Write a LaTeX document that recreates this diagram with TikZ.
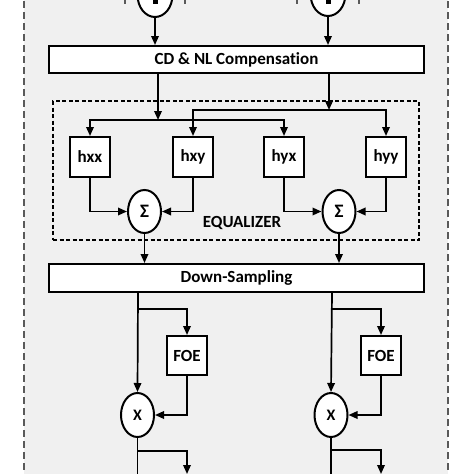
\documentclass[tikz,border=0pt]{standalone}
\usepackage{fontspec}
\setmainfont{Carlito}[Ligatures=NoCommon]
\usetikzlibrary{arrows.meta,shapes.geometric}

\begin{document}
\begin{tikzpicture}[x=1pt, y=-1pt, >={Triangle[length=9pt, width=7.5pt]}, line width=1.7pt,
  blk/.style={draw, fill=white, line width=2pt, inner sep=0pt, font=\fontsize{17}{20}\selectfont\bfseries},
  opnode/.style={ellipse, draw, fill=white, line width=2pt, inner sep=0pt, minimum width=33pt, minimum height=44pt, font=\fontsize{16}{18}\selectfont\bfseries},
  outer/.style={draw=black!65, line width=1.2pt, dash pattern=on 7pt off 4pt},
  eqbox/.style={draw, line width=1.8pt, dash pattern=on 4pt off 2.5pt}]
\useasboundingbox (0,0) rectangle (474,474);
\clip (0,0) rectangle (474,474);
% receiver background
\fill[black!6] (24,-10) rectangle (448,484);
\draw[outer] (24,-10) -- (24,484);
\draw[outer] (448,-10) -- (448,484);
\draw[outer] (125,-1) -- (125,4);
\draw[outer] (185,-1) -- (185,4);
\draw[outer] (297,-1) -- (297,4);
\draw[outer] (359,-1) -- (359,4);
% inputs
\node[opnode, minimum width=35pt] (in1) at (155,-5) {};
\node[opnode, minimum width=35pt] (in2) at (328,-6) {};
\fill (152.5,-2) rectangle (157.5,4);
\fill (325.5,-2) rectangle (330.5,4);
% blocks
\node[blk, minimum width=375pt, minimum height=27pt] (cd) at (236.5,59.5) {CD \& NL Compensation};
\node[eqbox, minimum width=366pt, minimum height=139pt] (eq) at (236,170.5) {};
\node[font=\fontsize{17}{20}\selectfont\bfseries] (eqlabel) at (242,223) {EQUALIZER};
\node[blk, minimum width=40pt, minimum height=40pt] (hxx) at (90,157) {hxx};
\node[blk, minimum width=40pt, minimum height=40pt] (hxy) at (193,157) {hxy};
\node[blk, minimum width=40pt, minimum height=40pt] (hyx) at (284,157) {hyx};
\node[blk, minimum width=40pt, minimum height=40pt] (hyy) at (386,157) {hyy};
\node[opnode, minimum height=43pt, font=\fontsize{19}{20}\selectfont\bfseries] (s1) at (144.5,211.5) {Σ};
\node[opnode, minimum height=43pt, font=\fontsize{19}{20}\selectfont\bfseries] (s2) at (339,211.5) {Σ};
\node[blk, minimum width=375pt, minimum height=28pt] (ds) at (236.5,278) {Down-Sampling};
\node[blk, minimum width=40pt, minimum height=39pt] (foe1) at (187,355.5) {FOE};
\node[blk, minimum width=40pt, minimum height=39pt] (foe2) at (381,355.5) {FOE};
\node[opnode] (m1) at (137.5,415) {X};
\node[opnode] (m2) at (331,415) {X};
% branch points
\coordinate (j1) at (158,120);
\coordinate (j2) at (329,110);
\coordinate (b1) at (138,309);
\coordinate (b2) at (332,309);
\coordinate (b3) at (138,451);
\coordinate (b4) at (332,450);
\coordinate (o1) at (187,474);
\coordinate (o2) at (381,474);
% connectors
\draw[->] (in1) -- (in1 |- cd.north);
\draw[->] (in2) -- (in2 |- cd.north);
\draw[->] (cd.south -| j1) -- (j1);
\draw[->] (cd.south -| j2) -- (j2);
\draw[->] (j2) -| (hxy.north);
\draw[->] (j2) -| (hyy.north);
\draw[->] (j1) -| (hxx.north);
\draw[->] (j1) -| (hyx.north);
\draw[->] (hxx.south) |- (s1.west);
\draw[->] (hxy.south) |- (s1.east);
\draw[->] (hyx.south) |- (s2.west);
\draw[->] (hyy.south) |- (s2.east);
\draw[->] (s1.south) -- (s1.south |- ds.north);
\draw[->] (s2.south) -- (s2.south |- ds.north);
\draw[->] (ds.south -| b1) -- (m1.north);
\draw[->] (ds.south -| b2) -- (m2.north);
\draw[->] (b1) -| (foe1.north);
\draw[->] (b2) -| (foe2.north);
\draw[->] (foe1.south) |- (m1.east);
\draw[->] (foe2.south) |- (m2.east);
\draw (m1.south) -- ++(0,40);
\draw (m2.south) -- ++(0,40);
\draw[->] (b3) -| (o1);
\draw[->] (b4) -| (o2);
\end{tikzpicture}
\end{document}
